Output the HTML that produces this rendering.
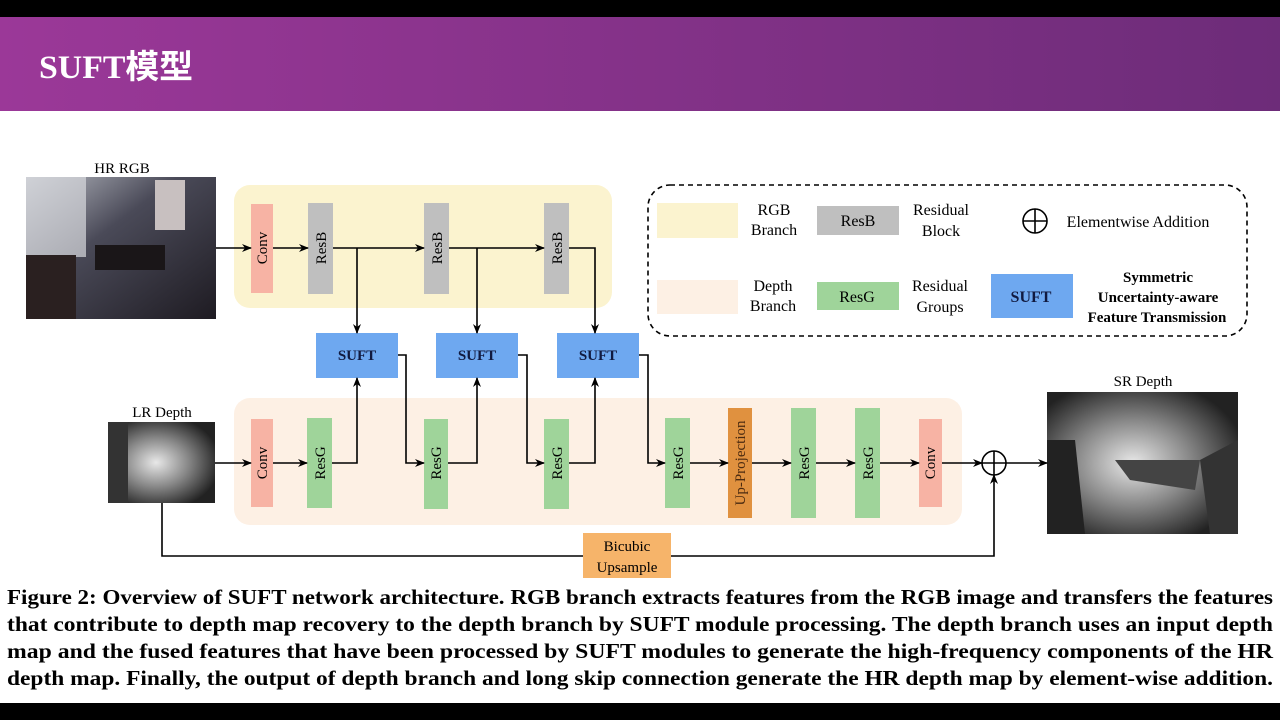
<!DOCTYPE html>
<html><head><meta charset="utf-8"><style>
html,body{margin:0;padding:0;width:1280px;height:720px;overflow:hidden;background:#fff}
svg text{font-family:"Liberation Serif","Noto Serif CJK SC",serif}
</style></head><body>
<svg width="1280" height="720" xmlns="http://www.w3.org/2000/svg">
<defs>
<linearGradient id="hd" x1="0" x2="1"><stop offset="0" stop-color="#9b3898"/><stop offset="1" stop-color="#6d2c79"/></linearGradient>
<marker id="a" markerWidth="10" markerHeight="10" refX="9" refY="5" orient="auto" markerUnits="userSpaceOnUse"><path d="M0,1 L10,5 L0,9 L3,5z" fill="#000"/></marker>
<radialGradient id="dp" cx="0.45" cy="0.5" r="0.6"><stop offset="0" stop-color="#e8e8e8"/><stop offset="0.5" stop-color="#888"/><stop offset="1" stop-color="#222"/></radialGradient>
<linearGradient id="rgb" x1="0" x2="1" y1="0" y2="1"><stop offset="0" stop-color="#b9bcc4"/><stop offset="0.4" stop-color="#4a4a58"/><stop offset="1" stop-color="#1e1b22"/></linearGradient>
</defs>
<rect x="0" y="0" width="1280" height="17" fill="#000"/>
<rect x="0" y="17" width="1280" height="94" fill="url(#hd)"/>
<text x="39" y="78" font-size="33" font-weight="bold" fill="#fff" textLength="154" lengthAdjust="spacingAndGlyphs" style="font-family:'Liberation Serif','Noto Sans CJK SC',serif">SUFT模型</text>
<rect x="0" y="703" width="1280" height="17" fill="#000"/>

<rect x="234" y="185" width="378" height="123" rx="16" fill="#fbf3cf"/>
<rect x="234" y="398" width="728" height="127" rx="16" fill="#fdf0e4"/>

<rect x="26" y="177" width="190" height="142" fill="url(#rgb)"/>
<rect x="26" y="177" width="60" height="80" fill="#d8dade" opacity="0.7"/>
<rect x="155" y="180" width="30" height="50" fill="#c8c0c0"/>
<rect x="95" y="245" width="70" height="25" fill="#1a1618"/>
<rect x="26" y="255" width="50" height="64" fill="#2a2020"/>
<text x="122" y="173" font-size="15" text-anchor="middle">HR RGB</text>
<rect x="108" y="422" width="107" height="81" fill="url(#dp)"/>
<rect x="108" y="422" width="20" height="81" fill="#333"/>
<text x="162" y="417" font-size="15" text-anchor="middle">LR Depth</text>
<rect x="1047" y="392" width="191" height="142" fill="url(#dp)"/>
<path d="M1047,440 L1075,440 L1085,534 L1047,534z" fill="#222"/>
<path d="M1200,460 L1238,440 L1238,534 L1210,534z" fill="#333"/>
<path d="M1115,460 L1200,460 L1195,490 L1130,480z" fill="#444"/>
<text x="1143" y="386" font-size="15" text-anchor="middle">SR Depth</text>

<g font-size="15" text-anchor="middle">
<rect x="251" y="204" width="22" height="89" fill="#f7b3a4"/><text transform="translate(267,248) rotate(-90)" text-anchor="middle">Conv</text>
<rect x="308" y="203" width="25" height="91" fill="#bfbfbf"/><text transform="translate(326,248) rotate(-90)">ResB</text>
<rect x="424" y="203" width="25" height="91" fill="#bfbfbf"/><text transform="translate(442,248) rotate(-90)">ResB</text>
<rect x="544" y="203" width="25" height="91" fill="#bfbfbf"/><text transform="translate(562,248) rotate(-90)">ResB</text>
<g font-weight="bold" font-size="15" fill="#111a40">
<rect x="316" y="333" width="82" height="45" fill="#6ea8f0"/><text x="357" y="360">SUFT</text>
<rect x="436" y="333" width="82" height="45" fill="#6ea8f0"/><text x="477" y="360">SUFT</text>
<rect x="557" y="333" width="82" height="45" fill="#6ea8f0"/><text x="598" y="360">SUFT</text>
</g>
<rect x="251" y="419" width="22" height="88" fill="#f7b3a4"/><text transform="translate(267,463) rotate(-90)">Conv</text>
<rect x="307" y="418" width="25" height="90" fill="#9fd49a"/><text transform="translate(325,463) rotate(-90)">ResG</text>
<rect x="424" y="419" width="24" height="90" fill="#9fd49a"/><text transform="translate(441,463) rotate(-90)">ResG</text>
<rect x="544" y="419" width="25" height="90" fill="#9fd49a"/><text transform="translate(562,463) rotate(-90)">ResG</text>
<rect x="665" y="418" width="25" height="90" fill="#9fd49a"/><text transform="translate(683,463) rotate(-90)">ResG</text>
<rect x="728" y="408" width="24" height="110" fill="#e0913f"/><text transform="translate(745,463) rotate(-90)" fill="#4a2a10">Up-Projection</text>
<rect x="791" y="408" width="25" height="110" fill="#9fd49a"/><text transform="translate(809,463) rotate(-90)">ResG</text>
<rect x="855" y="408" width="25" height="110" fill="#9fd49a"/><text transform="translate(873,463) rotate(-90)">ResG</text>
<rect x="919" y="419" width="23" height="88" fill="#f7b3a4"/><text transform="translate(935,463) rotate(-90)">Conv</text>
<rect x="583" y="533" width="88" height="45" fill="#f6b46a"/><text x="627" y="551">Bicubic</text><text x="627" y="572">Upsample</text>
</g>

<g stroke="#000" stroke-width="1.6" fill="none">
<line x1="216" y1="248" x2="251" y2="248" marker-end="url(#a)"/>
<line x1="273" y1="248" x2="308" y2="248" marker-end="url(#a)"/>
<line x1="333" y1="248" x2="424" y2="248" marker-end="url(#a)"/>
<line x1="357" y1="248" x2="357" y2="333" marker-end="url(#a)"/>
<line x1="449" y1="248" x2="544" y2="248" marker-end="url(#a)"/>
<line x1="477" y1="248" x2="477" y2="333" marker-end="url(#a)"/>
<polyline points="569,248 595,248 595,333" marker-end="url(#a)"/>
<line x1="215" y1="463" x2="251" y2="463" marker-end="url(#a)"/>
<line x1="273" y1="463" x2="307" y2="463" marker-end="url(#a)"/>
<polyline points="332,463 357,463 357,378" marker-end="url(#a)"/>
<polyline points="398,355 406,355 406,463 424,463" marker-end="url(#a)"/>
<polyline points="448,463 477,463 477,378" marker-end="url(#a)"/>
<polyline points="518,355 527,355 527,463 544,463" marker-end="url(#a)"/>
<polyline points="569,463 595,463 595,378" marker-end="url(#a)"/>
<polyline points="639,355 648,355 648,463 665,463" marker-end="url(#a)"/>
<line x1="690" y1="463" x2="728" y2="463" marker-end="url(#a)"/>
<line x1="752" y1="463" x2="791" y2="463" marker-end="url(#a)"/>
<line x1="816" y1="463" x2="855" y2="463" marker-end="url(#a)"/>
<line x1="880" y1="463" x2="919" y2="463" marker-end="url(#a)"/>
<line x1="942" y1="463" x2="982" y2="463" marker-end="url(#a)"/>
<line x1="1006" y1="463" x2="1047" y2="463" marker-end="url(#a)"/>
<polyline points="162,503 162,556 583,556"/>
<polyline points="671,556 994,556 994,475" marker-end="url(#a)"/>
<circle cx="994" cy="463" r="12"/><line x1="982" y1="463" x2="1006" y2="463"/><line x1="994" y1="451" x2="994" y2="475"/>
<rect x="648" y="185" width="599" height="151" rx="22" stroke-dasharray="5,4"/>
<circle cx="1035" cy="221" r="12"/><line x1="1023" y1="221" x2="1047" y2="221"/><line x1="1035" y1="209" x2="1035" y2="233"/>
</g>

<g font-size="16" text-anchor="middle">
<rect x="657" y="203" width="81" height="35" fill="#fbf3cf"/>
<text x="774" y="215">RGB</text><text x="774" y="235">Branch</text>
<rect x="817" y="206" width="82" height="29" fill="#bfbfbf"/><text x="858" y="226">ResB</text>
<text x="941" y="215">Residual</text><text x="941" y="236">Block</text>
<text x="1138" y="227">Elementwise Addition</text>
<rect x="657" y="280" width="81" height="34" fill="#fdf0e4"/>
<text x="773" y="291">Depth</text><text x="773" y="311">Branch</text>
<rect x="817" y="282" width="82" height="28" fill="#9fd49a"/><text x="857" y="302">ResG</text>
<text x="940" y="291">Residual</text><text x="940" y="312">Groups</text>
<rect x="991" y="274" width="82" height="44" fill="#6ea8f0"/><text x="1031" y="302" font-weight="bold" fill="#111a40">SUFT</text>
<g font-weight="bold" font-size="15"><text x="1158" y="282">Symmetric</text><text x="1158" y="302">Uncertainty-aware</text><text x="1157" y="322">Feature Transmission</text></g>
</g>

<g font-size="21" font-weight="bold">
<text x="7" y="604" textLength="1266" lengthAdjust="spacingAndGlyphs">Figure 2: Overview of SUFT network architecture. RGB branch extracts features from the RGB image and transfers the features</text>
<text x="7" y="631" textLength="1266" lengthAdjust="spacingAndGlyphs">that contribute to depth map recovery to the depth branch by SUFT module processing. The depth branch uses an input depth</text>
<text x="7" y="658" textLength="1266" lengthAdjust="spacingAndGlyphs">map and the fused features that have been processed by SUFT modules to generate the high-frequency components of the HR</text>
<text x="7" y="685" textLength="1266" lengthAdjust="spacingAndGlyphs">depth map. Finally, the output of depth branch and long skip connection generate the HR depth map by element-wise addition.</text>
</g>
</svg>
</body></html>
